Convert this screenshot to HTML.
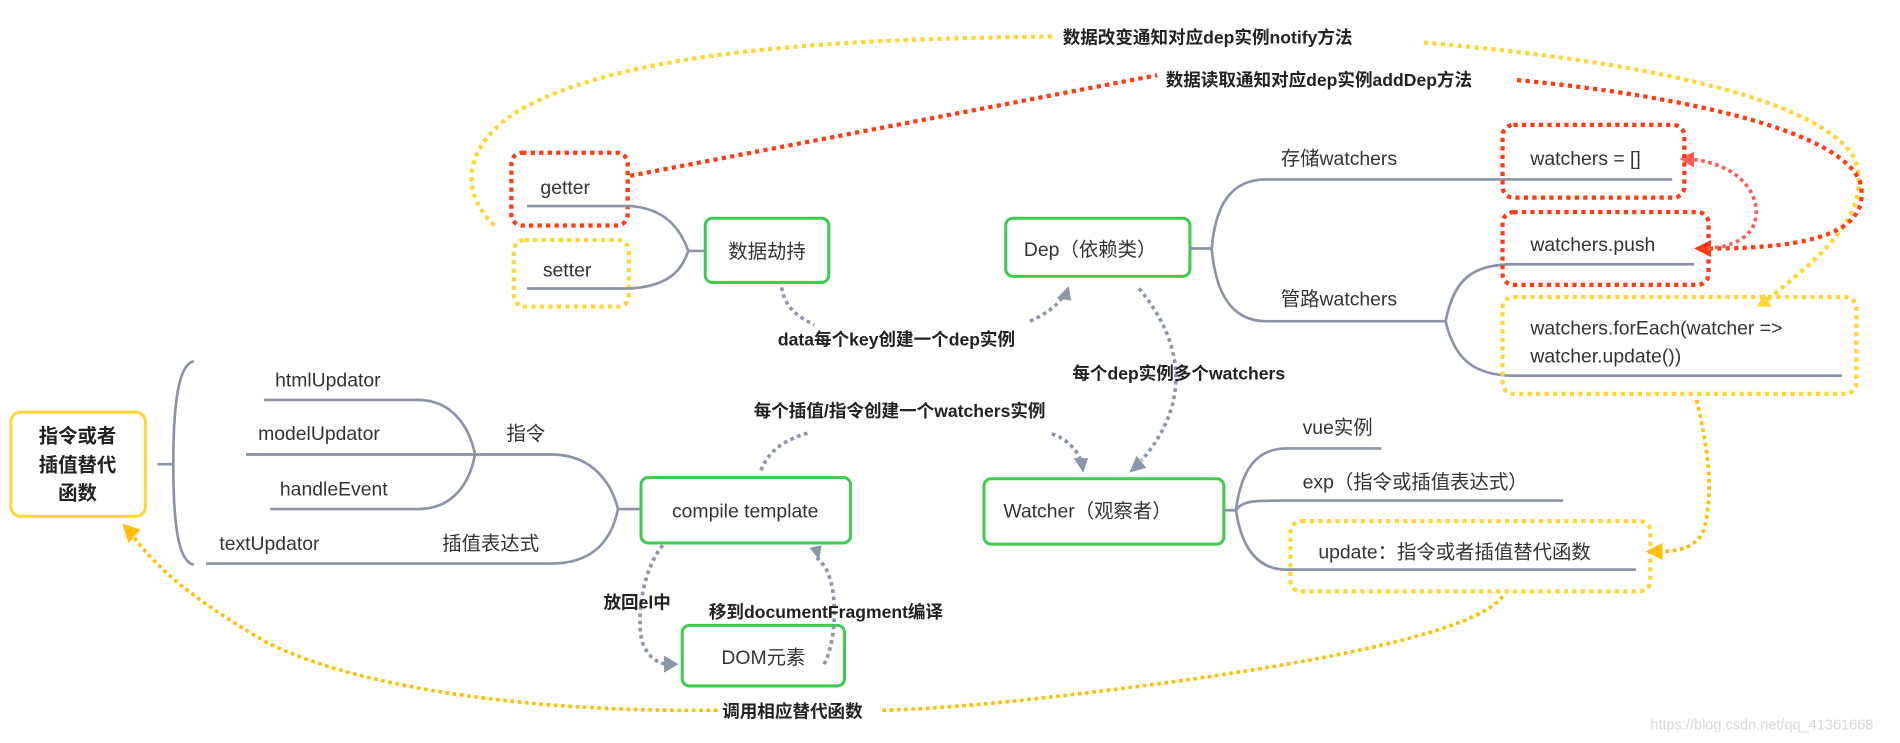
<!DOCTYPE html>
<html><head><meta charset="utf-8"><style>
html,body{margin:0;padding:0;background:#fff;}
svg{display:block;}
text{font-family:"Liberation Sans","Noto Sans CJK SC",sans-serif;fill:#333;}
.n{font-size:16px;}
.b{font-size:14.5px;font-weight:bold;fill:#222;}
.g{fill:none;stroke:#8a94a6;stroke-width:2.2;}
.gr{fill:#fff;stroke:#3ccd4f;stroke-width:2.5;}
.rd{fill:none;stroke:#ff3b14;stroke-width:3.5;stroke-dasharray:3.5 3.5;}
.yd{fill:none;stroke:#ffd633;stroke-width:3.5;stroke-dasharray:3.5 3.5;}
.gd{fill:none;stroke:#8a96aa;stroke-width:3;stroke-dasharray:3 3;}
.od{fill:none;stroke:#ffc000;stroke-width:3;stroke-dasharray:3 3;}
</style></head><body>
<svg width="1900" height="743" viewBox="0 0 1568 613" xmlns="http://www.w3.org/2000/svg">
<rect width="1568" height="613" fill="#fff"/>

<!-- top yellow notify -->
<path class="yd" d="M408,186 C380,160 380,120 430,90 C520,40 700,32 870,30"/>
<text class="b" x="877" y="36">数据改变通知对应dep实例notify方法</text>
<path class="yd" d="M1175,35 C1350,50 1500,80 1530,130 C1550,180 1490,220 1458,248"/>
<polygon points="1450,253 1462,253 1456,242" fill="#ffd633"/>

<!-- red addDep -->
<path class="rd" d="M520,145 L955,62"/>
<text class="b" x="962" y="71">数据读取通知对应dep实例addDep方法</text>
<path class="rd" d="M1252,66 C1400,80 1520,110 1535,150 C1545,190 1500,205 1410,205"/>
<polygon points="1398,205 1412,198 1412,212" fill="#ff3b14"/>

<!-- pink double arrow -->
<path d="M1392,131 C1450,135 1460,180 1440,195 C1430,203 1415,205 1406,205" fill="none" stroke="#ff5a5a" stroke-width="3" stroke-dasharray="3 3"/>
<polygon points="1386,131 1398,125 1398,138" fill="#ff5a5a"/>

<!-- getter / setter -->
<rect class="rd" x="422" y="126" width="96" height="60" rx="9"/>
<rect class="yd" x="424" y="198" width="95" height="55" rx="9"/>
<text class="n" x="446" y="160">getter</text>
<text class="n" x="448" y="228">setter</text>
<path class="g" d="M435,170 L520,170 C550,172 562,190 568,207 C562,225 550,236 520,238 L435,238 M568,207 L582,207"/>
<rect class="gr" x="582" y="180" width="102" height="53" rx="6"/>
<text class="n" x="633" y="213" text-anchor="middle">数据劫持</text>

<!-- data key -->
<path class="gd" d="M645,237 C648,255 660,262 672,268"/>
<text class="b" x="642" y="285">data每个key创建一个dep实例</text>
<path class="gd" d="M850,265 C865,258 872,252 877,245"/>
<polygon points="872,246 884,248 882,236" fill="#8a96aa"/>

<!-- Dep -->
<rect class="gr" x="830" y="180" width="152" height="48" rx="6"/>
<text class="n" x="845" y="211">Dep（依赖类）</text>
<path class="g" d="M982,205 L1000,205 C1003,170 1015,148 1045,148 L1380,148 M1000,205 C1003,240 1015,265 1045,265 L1193,265 C1200,230 1215,218 1250,218 L1398,218 M1193,265 C1200,295 1215,310 1250,310 L1520,310"/>
<text class="n" x="1057" y="136">存储watchers</text>
<text class="n" x="1057" y="252">管路watchers</text>
<rect class="rd" x="1240" y="103" width="150" height="60" rx="9"/>
<rect class="rd" x="1240" y="175" width="170" height="60" rx="9"/>
<rect class="yd" x="1240" y="245" width="292" height="80" rx="9"/>
<text class="n" x="1263" y="136">watchers = []</text>
<text class="n" x="1263" y="207">watchers.push</text>
<text class="n" x="1263" y="276">watchers.forEach(watcher =&gt;</text>
<text class="n" x="1263" y="299">watcher.update())</text>

<!-- dep -> watcher -->
<path class="gd" d="M940,238 C975,280 985,330 942,380"/>
<polygon points="932,390 946,386 938,376" fill="#8a96aa"/>
<text class="b" x="885" y="313">每个dep实例多个watchers</text>

<!-- Watcher -->
<rect class="gr" x="812" y="395" width="198" height="54" rx="6"/>
<text class="n" x="828" y="427">Watcher（观察者）</text>
<path class="g" d="M1010,421 L1020,421 C1024,390 1035,370 1062,370 L1140,370 M1020,421 C1025,413 1035,413 1060,413 L1290,413 M1020,421 C1025,455 1040,470 1062,470 L1350,470"/>
<text class="n" x="1075" y="358">vue实例</text>
<text class="n" x="1075" y="403">exp（指令或插值表达式）</text>
<rect class="yd" x="1065" y="430" width="297" height="58" rx="9"/>
<text class="n" x="1088" y="461">update：指令或者插值替代函数</text>

<!-- forEach -> update -->
<path class="od" d="M1400,330 C1410,370 1415,410 1405,440 C1398,452 1385,455 1370,455"/>
<polygon points="1358,455 1372,448 1372,462" fill="#ffc000"/>

<!-- compile -->
<path class="gd" d="M628,388 C635,370 650,362 668,357"/>
<text class="b" x="622" y="344">每个插值/指令创建一个watchers实例</text>
<path class="gd" d="M868,358 C880,362 888,370 892,380"/>
<polygon points="886,378 898,378 894,390" fill="#8a96aa"/>

<!-- left tree -->
<rect x="9" y="340" width="111" height="86" rx="8" fill="#fff" stroke="#ffd633" stroke-width="2.5"/>
<text class="b" x="64" y="365" text-anchor="middle" style="font-size:16px">指令或者</text>
<text class="b" x="64" y="389" text-anchor="middle" style="font-size:16px">插值替代</text>
<text class="b" x="64" y="412" text-anchor="middle" style="font-size:16px">函数</text>
<path class="g" d="M160,298 C150,300 143,320 143,383 C143,446 150,464 160,466 M130,383 L143,383"/>
<text class="n" x="227" y="319">htmlUpdator</text>
<text class="n" x="213" y="363">modelUpdator</text>
<text class="n" x="231" y="409">handleEvent</text>
<text class="n" x="418" y="363">指令</text>
<text class="n" x="181" y="454">textUpdator</text>
<text class="n" x="365" y="454">插值表达式</text>
<path class="g" d="M218,330 L345,330 C375,330 388,355 392,375 C388,397 375,420 345,420 L223,420 M203,375 L455,375 C490,375 505,400 510,420 C505,445 490,465 455,465 L170,465 M510,420 L529,420"/>
<rect class="gr" x="529" y="394" width="173" height="54" rx="6"/>
<text class="n" x="615" y="427" text-anchor="middle">compile template</text>
<rect class="gr" x="563" y="516" width="134" height="50" rx="6"/>
<text class="n" x="630" y="548" text-anchor="middle">DOM元素</text>
<path class="gd" d="M547,450 C530,470 525,510 530,530 C535,542 542,547 550,548"/>
<polygon points="560,548 548,541 548,555" fill="#8a96aa"/>
<text class="b" x="498" y="502">放回el中</text>
<path class="gd" d="M680,548 C690,530 692,490 682,470 C679,465 676,462 674,460"/>
<polygon points="668,452 678,450 676,462" fill="#8a96aa"/>
<text class="b" x="585" y="510">移到documentFragment编译</text>

<!-- bottom orange -->
<path class="od" d="M1240,492 C1220,520 1100,545 950,565 C850,578 780,585 728,586"/>
<text class="b" x="596" y="592">调用相应替代函数</text>
<path class="od" d="M592,586 C450,588 300,570 220,530 C160,495 130,470 108,440"/>
<polygon points="101,432 116,437 106,448" fill="#ffc000"/>

<text x="1362" y="602" style="font-size:12px;fill:#d8d8d8">https://blog.csdn.net/qq_41361668</text>
</svg>
</body></html>
